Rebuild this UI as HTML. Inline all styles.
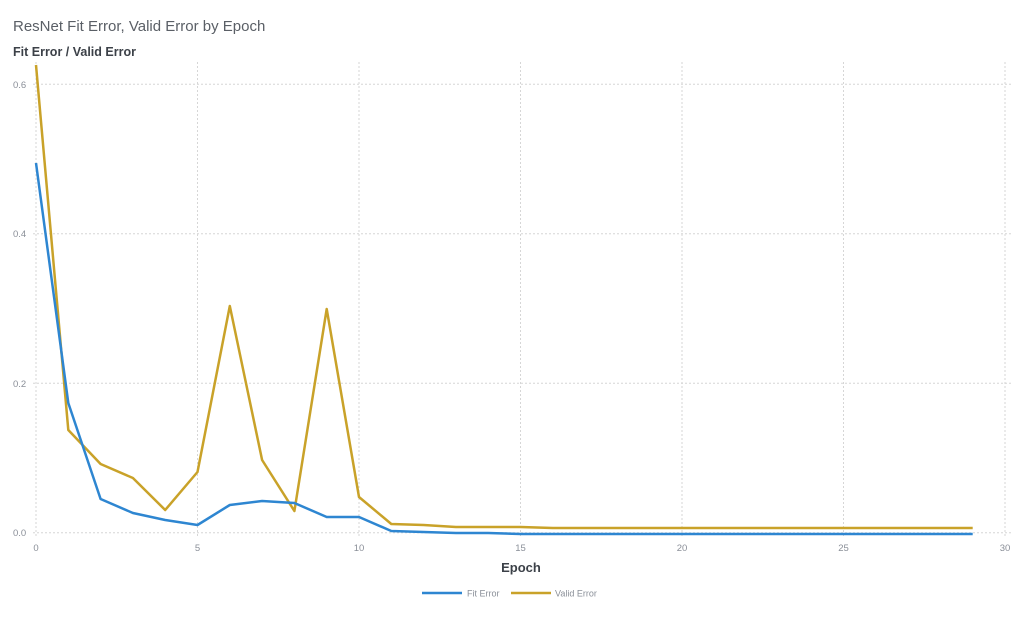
<!DOCTYPE html>
<html><head><meta charset="utf-8"><style>
body{margin:0;background:#fff;font-family:"Liberation Sans",sans-serif}
</style></head><body>
<svg width="1024" height="618" xmlns="http://www.w3.org/2000/svg" font-family="Liberation Sans, sans-serif">
<text x="13" y="31" font-size="15" fill="#5a5f66">ResNet Fit Error, Valid Error by Epoch</text>
<text x="13" y="56" font-size="12.5" font-weight="bold" fill="#3c4148">Fit Error / Valid Error</text>
<g stroke="#d6d6d6" stroke-width="1" stroke-dasharray="2,2">
<line x1="33" y1="84.3" x2="1012" y2="84.3"/>
<line x1="33" y1="233.8" x2="1012" y2="233.8"/>
<line x1="33" y1="383.2" x2="1012" y2="383.2"/>
<line x1="33" y1="532.7" x2="1012" y2="532.7"/>
<line x1="36" y1="62" x2="36" y2="536"/>
<line x1="197.5" y1="62" x2="197.5" y2="536"/>
<line x1="359" y1="62" x2="359" y2="536"/>
<line x1="520.5" y1="62" x2="520.5" y2="536"/>
<line x1="682" y1="62" x2="682" y2="536"/>
<line x1="843.5" y1="62" x2="843.5" y2="536"/>
<line x1="1005" y1="62" x2="1005" y2="536"/>
</g>
<g font-size="9.5" fill="#8a8f98">
<text x="13" y="88">0.6</text><text x="13" y="237">0.4</text><text x="13" y="387">0.2</text><text x="13" y="536">0.0</text>
<g text-anchor="middle">
<text x="36" y="551">0</text><text x="197.5" y="551">5</text><text x="359" y="551">10</text><text x="520.5" y="551">15</text><text x="682" y="551">20</text><text x="843.5" y="551">25</text><text x="1005" y="551">30</text></g>
</g>
<text x="521" y="572" font-size="13" font-weight="bold" fill="#3c4148" text-anchor="middle">Epoch</text>
<polyline fill="none" stroke="#c9a229" stroke-width="2.5" stroke-linejoin="round" points="36,65 68.3,430 100.6,464 132.9,478 165.2,510 197.5,472 229.8,306 262.1,460 294.4,511 326.7,309 359,497 391.3,524 423.6,525 455.9,527 488.2,527 520.5,527 552.8,528 585.1,528 617.4,528 649.7,528 682,528 714.3,528 746.6,528 778.9,528 811.2,528 843.5,528 875.8,528 908.1,528 940.4,528 972.7,528"/>
<polyline fill="none" stroke="#2e86d1" stroke-width="2.5" stroke-linejoin="round" points="36,163 68.3,403 100.6,499 132.9,513 165.2,520 197.5,525 229.8,505 262.1,501 294.4,503 326.7,517 359,517 391.3,531 423.6,532 455.9,533 488.2,533 520.5,534 552.8,534 585.1,534 617.4,534 649.7,534 682,534 714.3,534 746.6,534 778.9,534 811.2,534 843.5,534 875.8,534 908.1,534 940.4,534 972.7,534"/>
<line x1="422" y1="593" x2="462" y2="593" stroke="#2e86d1" stroke-width="2.5"/>
<text x="467" y="596.5" font-size="9" fill="#8a8f98">Fit Error</text>
<line x1="511" y1="593" x2="551" y2="593" stroke="#c9a229" stroke-width="2.5"/>
<text x="555" y="596.5" font-size="9" fill="#8a8f98">Valid Error</text>
</svg>
</body></html>
